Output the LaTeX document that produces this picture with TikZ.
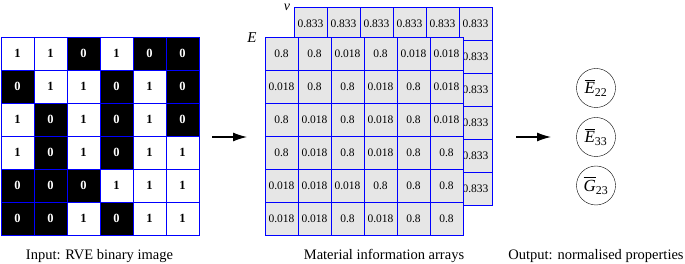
\documentclass[tikz,border=0pt]{standalone}
\usepackage{amsmath}
\usepackage{fontspec}
\setmainfont{Liberation Serif}
\usepackage{tikz}
\usetikzlibrary{arrows.meta, positioning, calc}
\definecolor{cGrid}{HTML}{0000FF}
\definecolor{cCell}{HTML}{E6E6E6}
\definecolor{cEdge}{HTML}{000000}
\def\rvedata{{1,1,0,1,0,0},{0,1,1,0,1,0},{1,0,1,0,1,0},{1,0,1,0,1,1},{0,0,0,1,1,1},{0,0,1,0,1,1}}

\begin{document}
\begin{tikzpicture}[x=1pt, y=-1pt,
  every node/.style={font=\fontsize{14.5}{17}\selectfont},
  bincell/.style={draw=cGrid, line width=0.8pt, minimum size=33pt, inner sep=0pt, font=\fontsize{12.5}{14}\selectfont\bfseries},
  bit1/.style={fill=white, text=black},
  bit0/.style={fill=black, text=white},
  numcell/.style={draw=cGrid, line width=0.8pt, fill=cCell, minimum size=33pt, inner sep=0pt, font=\fontsize{11.5}{13}\selectfont},
  prop/.style={draw, circle, minimum size=39pt, inner sep=0pt, font=\fontsize{17}{19}\selectfont},
  ar/.style={-{Latex[length=14pt, width=9pt]}, line width=1.2pt, draw=cEdge}
]
\useasboundingbox (0,0) rectangle (685,264);

% Input
\foreach \row [count=\j] in \rvedata {
  \foreach \b [count=\i] in \row {
    \node[bincell, bit\b] (rve-\i-\j) at ({1+33*\i-16.5}, {37+33*\j-16.5}) {\b};
  }
}

% Material arrays (nu behind, E in front)
\foreach \j in {1,...,6} {
  \foreach \i in {1,...,6} {
    \node[numcell] (nu-\i-\j) at ({294+33*\i-16.5}, {7+33*\j-16.5})
      {\ifnum\j=1 0.833\else\ifnum\i=6 0.833\fi\fi};
  }
}
\foreach \row [count=\j] in \rvedata {
  \foreach \b [count=\i] in \row {
    \node[numcell] (mod-\i-\j) at ({265+33*\i-16.5}, {37+33*\j-16.5}) {\ifnum\b=1 0.8\else 0.018\fi};
  }
}
\node[anchor=base, inner sep=0pt, font=\fontsize{14}{16}\selectfont] (nulab) at (287,10.5) {\textit{ν}};
\node[anchor=base, inner sep=0pt, font=\fontsize{15}{18}\selectfont] (elab) at (252,43) {\textit{E}};

% Output
\node[prop] (e22) at (596,88) {$\overline{\textit{E}}_{\text{22}}$};
\node[prop] (e33) at (596,137) {$\overline{\textit{E}}_{\text{33}}$};
\node[prop] (g23) at (596,185.5) {$\overline{\textit{G}}_{\text{23}}$};

% Arrows
\coordinate (a1s) at (212,137);
\coordinate (a1e) at (247,137);
\coordinate (a2s) at (516,137);
\coordinate (a2e) at (551,137);
\draw[ar] (a1s) -- (a1e);
\draw[ar] (a2s) -- (a2e);

% Captions
\node[anchor=base] (inlab) at (99.5,260) {Input: RVE binary image};
\node[anchor=base] (matlab) at (384,260) {Material information arrays};
\node[anchor=base] (outlab) at (596,260) {Output: normalised properties};
\end{tikzpicture}
\end{document}
